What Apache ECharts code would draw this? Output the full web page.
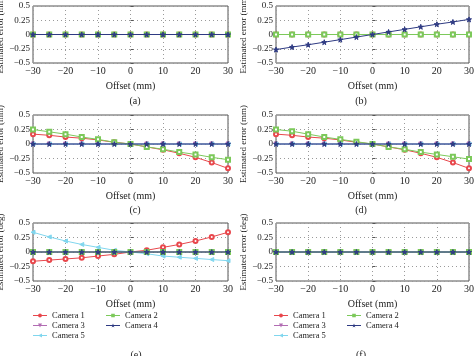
<!DOCTYPE html>
<html><head><meta charset="utf-8">
<script src="https://cdn.jsdelivr.net/npm/echarts@6/dist/echarts.min.js"></script>
<style>html,body{margin:0;padding:0;background:#fff}#c{width:474px;height:356px}</style>
</head><body><div id="c"></div>
<script>
const offsets = [-30,-25,-20,-15,-10,-5,0,5,10,15,20,25,30];
const cameraNames = ['Camera 1','Camera 2','Camera 3','Camera 4','Camera 5'];
const zeros = [0,0,0,0,0,0,0,0,0,0,0,0,0];
const b_cam4 = [-0.265,-0.22,-0.18,-0.135,-0.09,-0.045,0,0.045,0.09,0.135,0.18,0.22,0.265];
const c_cam1 = [0.17,0.15,0.12,0.10,0.07,0.03,0,-0.05,-0.10,-0.16,-0.23,-0.32,-0.42];
const c_cam2 = [0.25,0.21,0.17,0.12,0.08,0.03,0,-0.05,-0.09,-0.14,-0.18,-0.23,-0.27];
const d_cam1 = [0.17,0.15,0.12,0.10,0.07,0.03,0,-0.05,-0.10,-0.16,-0.23,-0.32,-0.42];
const d_cam2 = [0.25,0.22,0.17,0.12,0.08,0.04,0,-0.05,-0.09,-0.14,-0.18,-0.22,-0.26];
const e_cam1 = [-0.16,-0.14,-0.12,-0.10,-0.07,-0.04,0,0.03,0.08,0.13,0.19,0.26,0.34];
const e_cam5 = [0.34,0.26,0.19,0.13,0.08,0.03,0,-0.03,-0.07,-0.09,-0.11,-0.13,-0.15];
const captions = ['(a)','(b)','(c)','(d)','(e)','(f)'];
const yNames = ['Estimated error (mm)','Estimated error (mm)','Estimated error (mm)','Estimated error (mm)','Estimated error (deg)','Estimated error (deg)'];
// per panel: values for cameras 1..5
const panels = [
  [zeros, zeros, zeros, zeros, zeros],
  [zeros, zeros, zeros, b_cam4, zeros],
  [c_cam1, c_cam2, zeros, zeros, zeros],
  [d_cam1, d_cam2, zeros, zeros, zeros],
  [e_cam1, zeros, zeros, zeros, e_cam5],
  [zeros, zeros, zeros, zeros, zeros]
];

const colors = ['#e8474c','#7cc95a','#b26db3','#2e3a82','#80d6ee'];
const star = 'path://M50,0 L61,35 L98,35 L68,57 L79,91 L50,70 L21,91 L32,57 L2,35 L39,35 Z';
const symbols = ['emptyCircle','emptyRect','triangle',star,'triangle'];
const symRot = [0,0,180,0,90];
const symSize = [4,4,4,5,4];
const drawOrder = [0,2,4,1,3];

// legend icons: short line with a small marker
const lineSeg = 'M0,2.6 L14,2.6 L14,3.4 L0,3.4 Z ';
const legendIcons = [
  'path://' + lineSeg + 'M7,1 L8.4,1.6 L9,3 L8.4,4.4 L7,5 L5.6,4.4 L5,3 L5.6,1.6 Z',
  'path://' + lineSeg + 'M5.2,1.2 L8.8,1.2 L8.8,4.8 L5.2,4.8 Z M5.2,1 L5.2,1 Z M7,5 L7,5 Z M7,1 L7,1 Z',
  'path://' + lineSeg + 'M5,1 L9,1 L7,5 Z',
  'path://' + lineSeg + 'M7,1 L7.6,2.4 L9.1,2.4 L7.9,3.4 L8.3,5 L7,4.1 L5.7,5 L6.1,3.4 L4.9,2.4 L6.4,2.4 Z',
  'path://' + lineSeg + 'M9,1 L9,5 L5,3 Z'
];

const font = "'Liberation Serif', 'DejaVu Serif', serif";
const gridPos = [
  {left:33, top:6, width:195, height:57},
  {left:276, top:6, width:193, height:57},
  {left:33, top:115, width:195, height:58},
  {left:276, top:115, width:193, height:58},
  {left:33, top:223, width:195, height:58},
  {left:276, top:223, width:193, height:58}
];
const captionPos = [[130,91],[356,91],[130,200],[356,200],[131,345],[356,345]];

const grids = [], xAxes = [], yAxes = [], series = [], titles = [], legends = [];
gridPos.forEach((g, i) => {
  grids.push(Object.assign({show:true, borderColor:'#555', borderWidth:1, backgroundColor:'transparent',
    containLabel:false, outerBoundsMode:'none'}, g));
  xAxes.push({
    type:'value', gridIndex:i, min:-30, max:30, interval:10,
    name:'Offset (mm)', nameLocation:'middle', nameGap:18,
    nameTextStyle:{fontFamily:font, fontSize:10, color:'#222'},
    axisLine:{show:false}, axisTick:{inside:true, length:3, lineStyle:{color:'#555'}},
    axisLabel:{fontFamily:font, fontSize:10, color:'#222', margin:3, formatter:v => String(v).replace('-','−')},
    splitLine:{show:true, lineStyle:{type:[1,3], color:'#9a9a9a', width:1}}
  });
  yAxes.push({
    type:'value', gridIndex:i, min:-0.5, max:0.5, interval:0.25,
    name:yNames[i], nameLocation:'middle', nameGap:27,
    nameTextStyle:{fontFamily:font, fontSize:9, color:'#222'},
    axisLine:{show:false}, axisTick:{inside:true, length:3, lineStyle:{color:'#555'}},
    axisLabel:{fontFamily:font, fontSize:9, color:'#222', margin:3, formatter:v => String(v).replace('-','−')},
    splitLine:{show:true, lineStyle:{type:[1,3], color:'#9a9a9a', width:1}}
  });
  titles.push({text:captions[i], left:captionPos[i][0], top:captionPos[i][1], textAlign:'center',
    textStyle:{fontFamily:font, fontSize:10, fontWeight:'normal', color:'#222'}});
  drawOrder.forEach((k, zi) => {
    const vals = panels[i][k];
    series.push({
      type:'line', name:cameraNames[k], xAxisIndex:i, yAxisIndex:i, z:2 + zi,
      data: offsets.map((x, j) => [x, vals[j]]),
      symbol:symbols[k], symbolRotate:symRot[k], symbolSize:symSize[k],
      showAllSymbol:true, silent:true, animation:false,
      lineStyle:{color:colors[k], width:1}, itemStyle:{color:colors[k], borderColor:colors[k], borderWidth:1}
    });
  });
});

// legend slots: [camera index, column, row]
const legendSlots = [[0,0,0],[1,1,0],[2,0,1],[3,1,1],[4,0,2]];
[[33,106,311],[274,347,311]].forEach(([c0, c1, ly]) => {
  legendSlots.forEach(([k, col, row]) => {
    legends.push({
      data:[{name:cameraNames[k], icon:legendIcons[k]}],
      left: col === 0 ? c0 : c1, top: ly + row*10,
      itemWidth:14, itemHeight:4, itemGap:0, padding:0, selectedMode:false,
      itemStyle:{borderWidth:0},
      textStyle:{fontFamily:font, fontSize:8.5, color:'#222', padding:[0,0,0,0]}
    });
  });
});

const chart = echarts.init(document.getElementById('c'), null, {renderer:'canvas'});
chart.setOption({
  animation:false, color:colors,
  title:titles, legend:legends, grid:grids, xAxis:xAxes, yAxis:yAxes, series:series
});
</script></body></html>
